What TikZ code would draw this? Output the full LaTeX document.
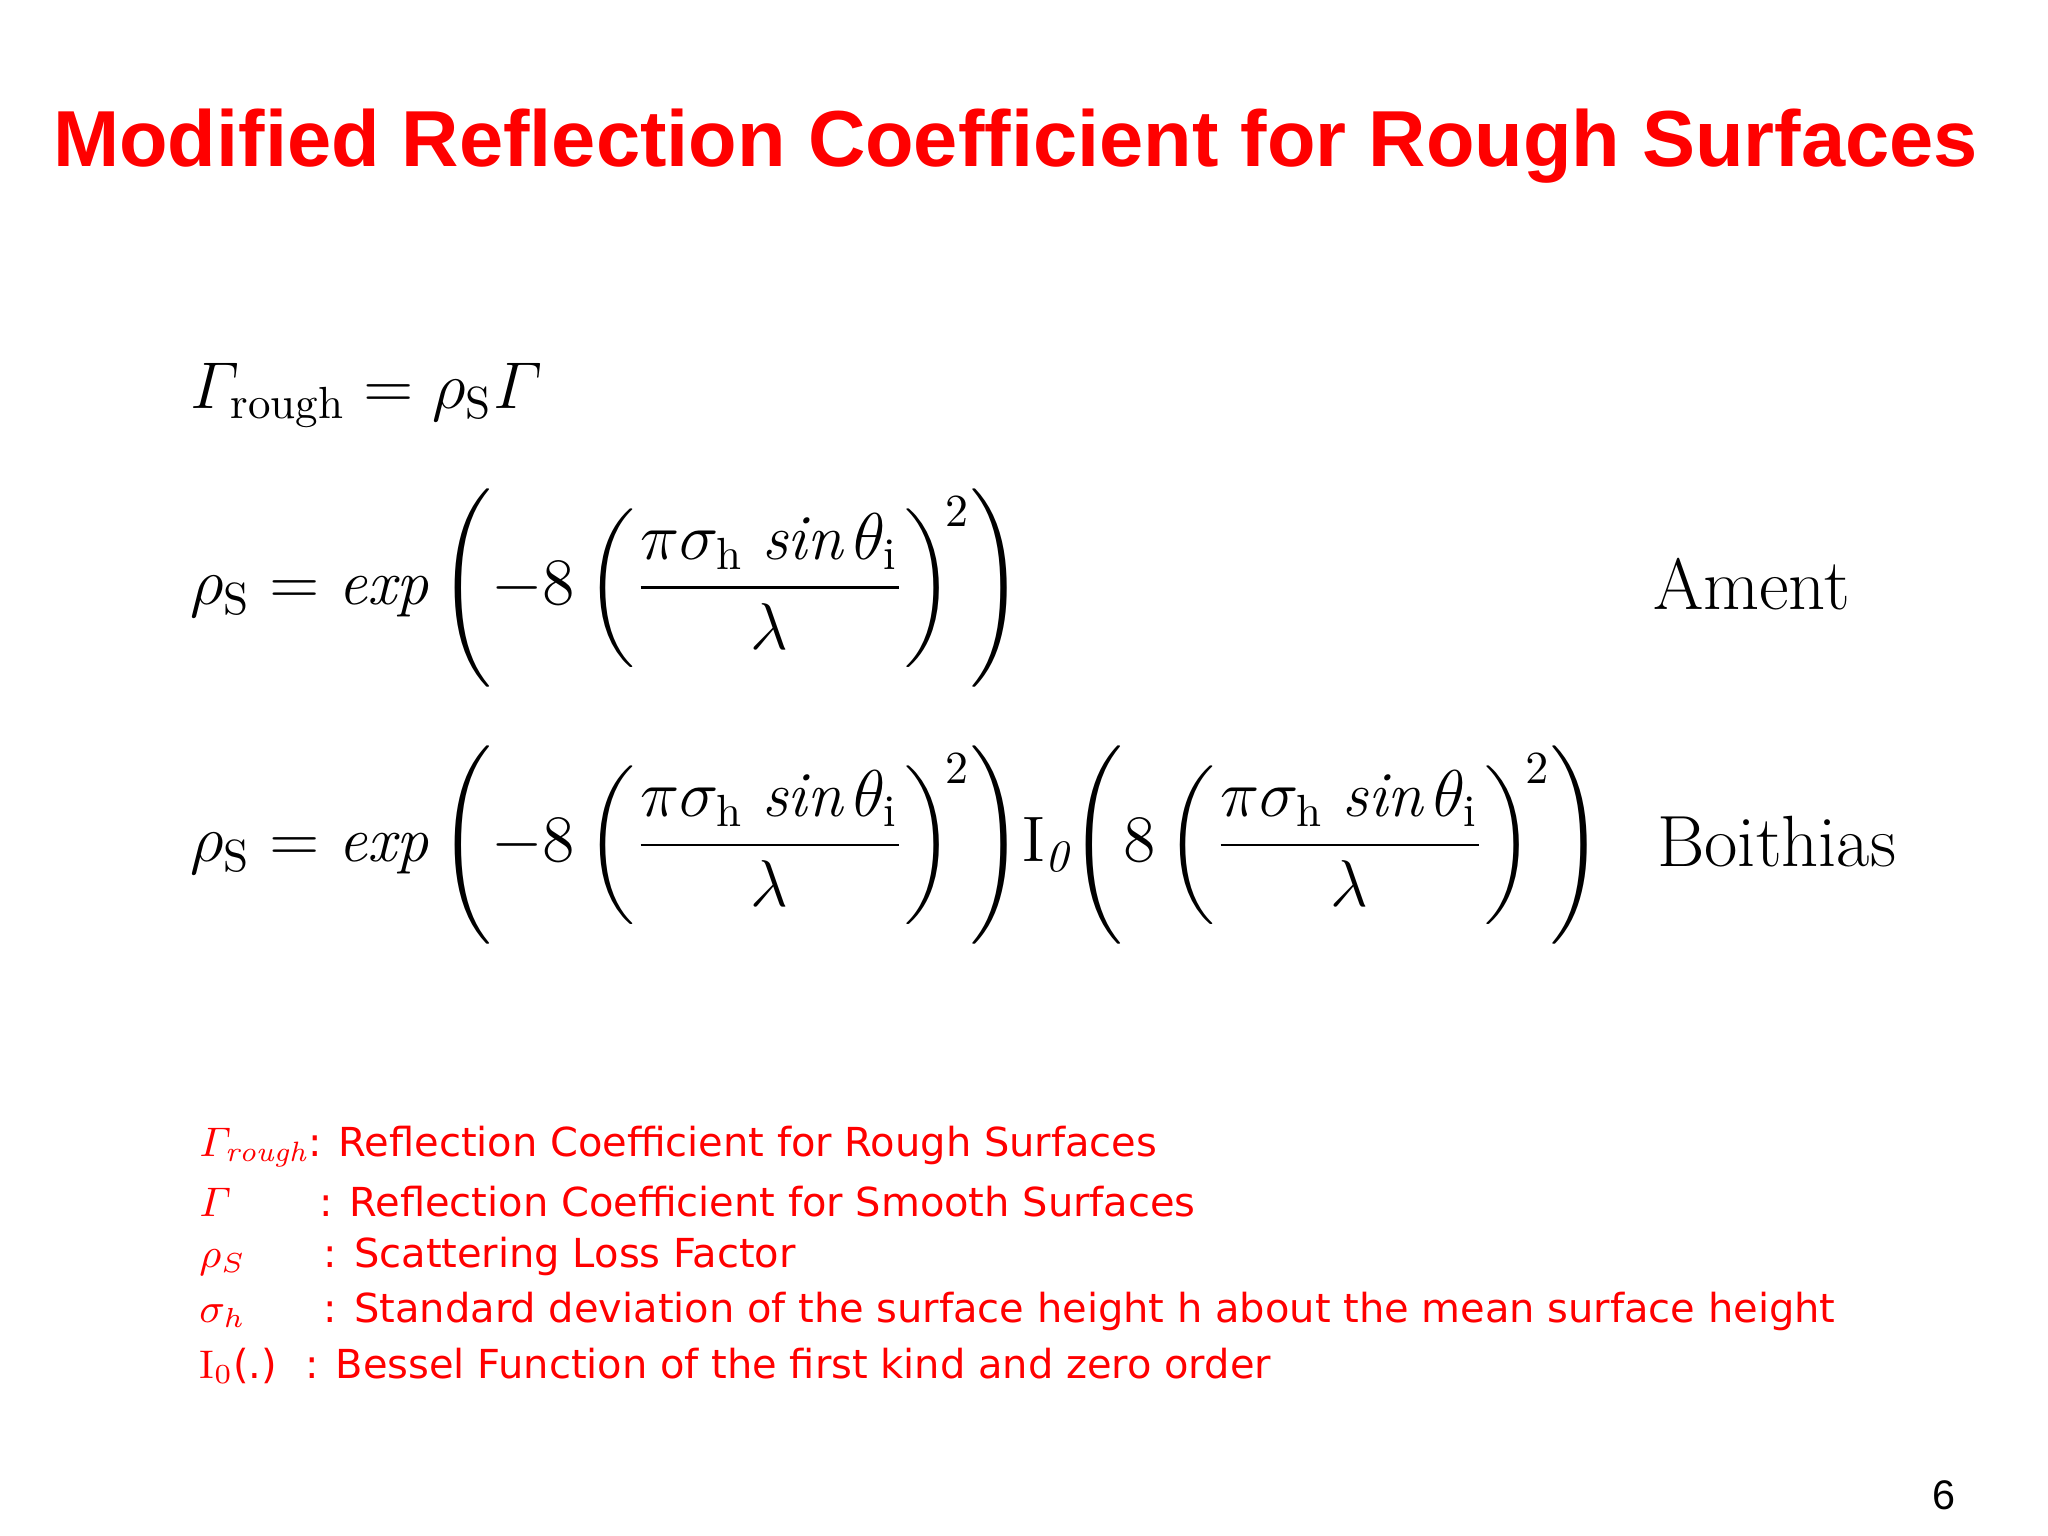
\documentclass[tikz,border=0pt]{standalone}
\usepackage{amsmath}
\usepackage{fontspec}
\setsansfont{Liberation Sans}
\newfontfamily\legendfont{DejaVu Sans}
\usetikzlibrary{positioning}
\definecolor{slidered}{RGB}{255,0,0}
\tikzset{
  eqn/.style={anchor=west, inner sep=0pt, font=\fontsize{14}{17}\selectfont},
  modelname/.style={anchor=west, inner sep=0pt, font=\fontsize{15.8}{19}\selectfont},
  legend/.style={anchor=west, inner sep=0pt, text=slidered, font=\legendfont\fontsize{8.7}{10}\selectfont},
}
\begin{document}
\begin{tikzpicture}[x=0.01cm, y=-0.01cm]
  \useasboundingbox[fill=white] (0,0) rectangle (1568,1176);
  \node[anchor=west, inner sep=0pt, text=slidered, font=\sffamily\bfseries\fontsize{17.3}{20}\selectfont] (title) at (40,112) {Modified Reflection Coefficient for Rough Surfaces};

  \node[eqn] (rough) at (145,303) {$\varGamma_{\mathrm{rough}} = \rho_{\mathrm S}\varGamma$};
  \node[eqn] (ament) at (145,450) {$\rho_{\mathrm S} = \mathit{exp}\left(-8\left(\dfrac{\pi\sigma_{\mathrm h}\;\mathit{sin}\,\theta_{\mathrm i}}{\lambda}\right)^{\!2}\right)$};
  \node[eqn] (boith) at (145,647) {$\rho_{\mathrm S} = \mathit{exp}\left(-8\left(\dfrac{\pi\sigma_{\mathrm h}\;\mathit{sin}\,\theta_{\mathrm i}}{\lambda}\right)^{\!2}\right)\!\mathrm{I}_{\mathit 0}\!\left(8\left(\dfrac{\pi\sigma_{\mathrm h}\;\mathit{sin}\,\theta_{\mathrm i}}{\lambda}\right)^{\!2}\right)$};
  \node[modelname] (amentname) at (1265,447) {Ament};
  \node[modelname] (boithname) at (1268,644) {Boithias};

  \node[legend] (l1) at (152,878) {$\varGamma_{\mathit{rough}}$: Reflection Coefficient for Rough Surfaces};
  \node[legend] (l2) at (152,920) {$\varGamma$\hspace{2.2em}: Reflection Coefficient for Smooth Surfaces};
  \node[legend] (l3) at (152,962) {$\rho_{S}$\hspace{1.95em}: Scattering Loss Factor};
  \node[legend] (l4) at (152,1004) {$\sigma_{h}$\hspace{1.95em}: Standard deviation of the surface height h about the mean surface height};
  \node[legend] (l5) at (152,1046) {$\mathrm{I}_0$(.)\hspace{0.7em}: Bessel Function of the first kind and zero order};

  \node[anchor=center, inner sep=0pt, font=\sffamily\fontsize{9}{11}\selectfont] (page) at (1488,1145) {6};
\end{tikzpicture}
\end{document}
